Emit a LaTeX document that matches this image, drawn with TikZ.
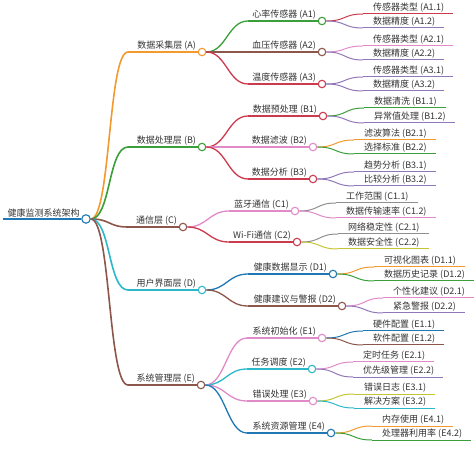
\documentclass[tikz,border=0pt]{standalone}
\usepackage{fontspec}
\setmainfont{Noto Sans CJK SC}
\usetikzlibrary{calc}
\definecolor{cblue}{HTML}{1F77B4}
\definecolor{corange}{HTML}{F29A2E}
\definecolor{cgreen}{HTML}{3A9E3A}
\definecolor{cred}{HTML}{CC3A4E}
\definecolor{cpurple}{HTML}{9078B8}
\definecolor{cbrown}{HTML}{8C564B}
\definecolor{cpink}{HTML}{E08AC8}
\definecolor{cgrey}{HTML}{8F8F8F}
\definecolor{colive}{HTML}{C4C434}
\definecolor{ccyan}{HTML}{2CB8C8}
\definecolor{ctext}{HTML}{333333}
\tikzset{
  lbl/.style={inner sep=0pt, font=\fontsize{9}{10}\selectfont, text=ctext},
  dot/.style={circle, fill=white, minimum size=7.5pt, inner sep=0pt, line width=1.1pt},
  link/.style={out=0, in=180, distance=20pt},
  lvone/.style={line width=1.6pt},
  lvtwo/.style={line width=1.3pt},
  lvleaf/.style={line width=1pt},
}
% hub: name, parent, xs, xc, y, colour, width style, text
\newcommand{\mmhub}[8]{%
  \coordinate (#1-s) at (#3,#5);
  \node[dot, draw=#6] (#1) at (#4,#5) {};
  \draw[#6, #7] (#1-s) -- (#1.west);
  \draw[#6, #7] (#2.east) to[link] (#1-s);
  \node[lbl, anchor=south east] (#1-t) at ([xshift=-1.5pt,yshift=1.6pt]#1.west) {#8};
}
% leaf: name, parent, xs, y, colour, text
\newcommand{\mmleaf}[6]{%
  \coordinate (#1-s) at (#3,#4);
  \node[lbl, anchor=south west] (#1) at ([xshift=10pt,yshift=1.6pt]#1-s) {#6};
  \draw[#5, lvleaf] (#1-s) -- ($(#1-s -| #1.east)+(9,0)$);
  \draw[#5, lvleaf] (#2.east) to[link] (#1-s);
}
\begin{document}
\begin{tikzpicture}[x=1pt,y=-1pt]
\useasboundingbox (0,0) rectangle (474,454);
% root
\coordinate (r-s) at (3,219);
\node[dot, draw=cblue, minimum size=8.5pt] (r) at (86,219) {};
\draw[cblue, line width=2.8pt] (r-s) -- (r.west);
\node[lbl, anchor=south east] (r-t) at ([xshift=-1.5pt,yshift=2pt]r.west) {健康监测系统架构};
% level 1
\mmhub{A}{r}{128}{202}{52}{corange}{lvone}{数据采集层 (A)}
\mmhub{B}{r}{128}{202}{147}{cgreen}{lvone}{数据处理层 (B)}
\mmhub{C}{r}{128}{183}{227}{cbrown}{lvone}{通信层 (C)}
\mmhub{D}{r}{128}{202}{290}{ccyan}{lvone}{用户界面层 (D)}
\mmhub{E}{r}{128}{201}{385}{cbrown}{lvone}{系统管理层 (E)}
% level 2
\mmhub{A1}{A}{248}{322}{21}{cgreen}{lvtwo}{心率传感器 (A1)}
\mmhub{A2}{A}{248}{322}{52}{cbrown}{lvtwo}{血压传感器 (A2)}
\mmhub{A3}{A}{248}{322}{84}{cred}{lvtwo}{温度传感器 (A3)}
\mmhub{B1}{B}{248}{323}{116}{cred}{lvtwo}{数据预处理 (B1)}
\mmhub{B2}{B}{248}{313}{147}{cpink}{lvtwo}{数据滤波 (B2)}
\mmhub{B3}{B}{248}{313}{179}{cred}{lvtwo}{数据分析 (B3)}
\mmhub{C1}{C}{229}{295}{211}{cpink}{lvtwo}{蓝牙通信 (C1)}
\mmhub{C2}{C}{229}{297}{242}{cred}{lvtwo}{Wi-Fi通信 (C2)}
\mmhub{D1}{D}{248}{333}{274}{cblue}{lvtwo}{健康数据显示 (D1)}
\mmhub{D2}{D}{248}{342}{306}{cbrown}{lvtwo}{健康建议与警报 (D2)}
\mmhub{E1}{E}{247}{322}{338}{cpink}{lvtwo}{系统初始化 (E1)}
\mmhub{E2}{E}{247}{312}{369}{ccyan}{lvtwo}{任务调度 (E2)}
\mmhub{E3}{E}{247}{313}{401}{cpink}{lvtwo}{错误处理 (E3)}
\mmhub{E4}{E}{247}{331}{433}{cblue}{lvtwo}{系统资源管理 (E4)}
% leaves
\mmleaf{A11}{A1}{363}{14}{cred}{传感器类型 (A1.1)}
\mmleaf{A12}{A1}{363}{28}{cpurple}{数据精度 (A1.2)}
\mmleaf{A21}{A2}{363}{46}{cpink}{传感器类型 (A2.1)}
\mmleaf{A22}{A2}{363}{60}{cpurple}{数据精度 (A2.2)}
\mmleaf{A31}{A3}{363}{77}{cpurple}{传感器类型 (A3.1)}
\mmleaf{A32}{A3}{363}{91}{cpurple}{数据精度 (A3.2)}
\mmleaf{B11}{B1}{364}{108}{cgreen}{数据清洗 (B1.1)}
\mmleaf{B12}{B1}{364}{123}{cpurple}{异常值处理 (B1.2)}
\mmleaf{B21}{B2}{354}{140}{corange}{滤波算法 (B2.1)}
\mmleaf{B22}{B2}{354}{154}{cgreen}{选择标准 (B2.2)}
\mmleaf{B31}{B3}{354}{172}{cpurple}{趋势分析 (B3.1)}
\mmleaf{B32}{B3}{354}{186}{cpurple}{比较分析 (B3.2)}
\mmleaf{C11}{C1}{336}{203}{cgrey}{工作范围 (C1.1)}
\mmleaf{C12}{C1}{336}{218}{cpink}{数据传输速率 (C1.2)}
\mmleaf{C21}{C2}{338}{234}{cgrey}{网络稳定性 (C2.1)}
\mmleaf{C22}{C2}{338}{249}{colive}{数据安全性 (C2.2)}
\mmleaf{D11}{D1}{374}{267}{corange}{可视化图表 (D1.1)}
\mmleaf{D12}{D1}{374}{281}{cgreen}{数据历史记录 (D1.2)}
\mmleaf{D21}{D2}{383}{298}{cpink}{个性化建议 (D2.1)}
\mmleaf{D22}{D2}{383}{313}{cpurple}{紧急警报 (D2.2)}
\mmleaf{E11}{E1}{363}{331}{cblue}{硬件配置 (E1.1)}
\mmleaf{E12}{E1}{363}{345}{cbrown}{软件配置 (E1.2)}
\mmleaf{E21}{E2}{353}{362}{cpink}{定时任务 (E2.1)}
\mmleaf{E22}{E2}{353}{377}{cpurple}{优先级管理 (E2.2)}
\mmleaf{E31}{E3}{354}{394}{colive}{错误日志 (E3.1)}
\mmleaf{E32}{E3}{354}{408}{ccyan}{解决方案 (E3.2)}
\mmleaf{E41}{E4}{372}{426}{corange}{内存使用 (E4.1)}
\mmleaf{E42}{E4}{372}{440}{cgreen}{处理器利用率 (E4.2)}
\end{tikzpicture}
\end{document}
